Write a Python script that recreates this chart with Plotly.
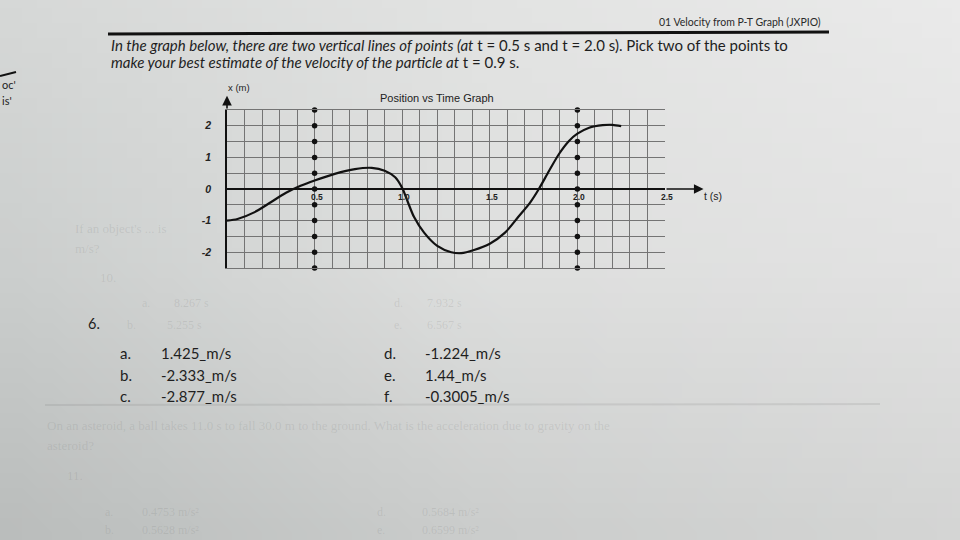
import base64, zlib, struct
import plotly.graph_objects as go

# ---------------- data ----------------
curve_t = [0.0, 0.06, 0.155, 0.25, 0.337, 0.42, 0.5, 0.615, 0.73, 0.826, 0.90, 0.96, 1.0, 1.03, 1.067,
           1.125, 1.20, 1.28, 1.337, 1.41, 1.5, 1.587, 1.663, 1.73, 1.78, 1.837, 1.894, 1.952, 2.0,
           2.067, 2.144, 2.2, 2.25]
curve_x = [-1.0, -0.95, -0.74, -0.42, -0.12, 0.1, 0.27, 0.48, 0.63, 0.67, 0.58, 0.37, 0.03, -0.38, -0.88,
           -1.38, -1.8, -2.0, -2.03, -1.93, -1.73, -1.38, -0.88, -0.43, 0.0, 0.56, 1.1, 1.52, 1.75,
           1.94, 2.02, 2.03, 1.99]
dots_t1 = 0.5
dots_t2 = 2.0
dot_positions = [2.5, 2.0, 1.5, 1.0, 0.5, 0.0, -0.5, -1.0, -1.5, -2.0, -2.5]
x_tick_vals = [0.5, 1.0, 1.5, 2.0, 2.5]
x_tick_text = ["0.5", "1.0", "1.5", "2.0", "2.5"]
y_tick_vals = [-2, -1, 0, 1, 2]
y_tick_text = ["-2", "-1", "0", "1", "2"]
answer_letters_left = ["a.", "b.", "c."]
answer_values_left = ["1.425_m/s", "-2.333_m/s", "-2.877_m/s"]
answer_letters_right = ["d.", "e.", "f."]
answer_values_right = ["-1.224_m/s", "1.44_m/s", "-0.3005_m/s"]

T_RANGE = [0, 2.5]
X_RANGE = [-2.5, 2.5]

W, H = 960, 540
ML, MR, MT, MB = 227, 295, 110, 272
PW, PH = W - ML - MR, H - MT - MB


def px(xp):
    return (xp - ML) / PW


def py(yp):
    return (H - MB - yp) / PH


# ---------------- background gradient (photo look) ----------------
def make_png(ctrl, w=64, h=36):
    rows = len(ctrl)
    cols = len(ctrl[0])
    raw = bytearray()
    for j in range(h):
        v = j / (h - 1) * (rows - 1)
        j0 = min(int(v), rows - 2)
        fv = v - j0
        raw.append(0)
        for i in range(w):
            u = i / (w - 1) * (cols - 1)
            i0 = min(int(u), cols - 2)
            fu = u - i0
            for c in range(3):
                a = ctrl[j0][i0][c] * (1 - fu) + ctrl[j0][i0 + 1][c] * fu
                b = ctrl[j0 + 1][i0][c] * (1 - fu) + ctrl[j0 + 1][i0 + 1][c] * fu
                raw.append(int(round(a * (1 - fv) + b * fv)))

    def chunk(t, d):
        return struct.pack('>I', len(d)) + t + d + struct.pack('>I', zlib.crc32(t + d) & 0xffffffff)

    png = (b'\x89PNG\r\n\x1a\n' + chunk(b'IHDR', struct.pack('>IIBBBBB', w, h, 8, 2, 0, 0, 0))
           + chunk(b'IDAT', zlib.compress(bytes(raw))) + chunk(b'IEND', b''))
    return 'data:image/png;base64,' + base64.b64encode(png).decode()


ctrl = [
    [(214, 216, 215), (226, 227, 226), (234, 234, 234)],
    [(203, 206, 205), (222, 223, 222), (226, 226, 226)],
    [(186, 189, 188), (203, 205, 204), (212, 213, 212)],
]
bg = make_png(ctrl)

fig = go.Figure()

# curve
fig.add_trace(go.Scatter(x=curve_t, y=curve_x, mode='lines',
                         line=dict(color='#111111', width=2.2, shape='spline', smoothing=0.8),
                         hoverinfo='skip', showlegend=False, cliponaxis=False))
# dot columns
for tt in (dots_t1, dots_t2):
    fig.add_trace(go.Scatter(x=[tt] * len(dot_positions), y=dot_positions, mode='markers',
                             marker=dict(color='#111111', size=5.5),
                             hoverinfo='skip', showlegend=False, cliponaxis=False))

grid_col = '#747474'
fig.update_xaxes(range=T_RANGE, dtick=0.1, tick0=0, showgrid=True, gridcolor=grid_col, gridwidth=1,
                 showticklabels=False, ticks='', zeroline=False,
                 showline=True, linecolor=grid_col, linewidth=1, mirror=True)
fig.update_yaxes(range=X_RANGE, tickvals=y_tick_vals, ticktext=y_tick_text, showgrid=True,
                 gridcolor=grid_col, gridwidth=1,
                 minor=dict(dtick=0.5, tick0=0, showgrid=True, gridcolor=grid_col, gridwidth=1),
                 zeroline=True, zerolinecolor='#111111', zerolinewidth=1.6,
                 showline=True, linecolor='#111111', linewidth=1.6, mirror=False,
                 ticks='', ticklabelstandoff=12,
                 tickfont=dict(family='Liberation Sans', size=10.5, color='#222222', weight='bold', style='italic'))

ann = []
# axis arrows
ann.append(dict(x=T_RANGE[0], y=2.95, ax=T_RANGE[0], ay=X_RANGE[1], xref='x', yref='y', axref='x', ayref='y',
                showarrow=True, arrowhead=2, arrowsize=1.2, arrowwidth=1.6, arrowcolor='#111111', text=''))
ann.append(dict(x=2.72, y=0, ax=T_RANGE[1], ay=0, xref='x', yref='y', axref='x', ayref='y',
                showarrow=True, arrowhead=2, arrowsize=1.2, arrowwidth=1.6, arrowcolor='#111111', text=''))
# x tick labels
for v, t in zip(x_tick_vals, x_tick_text):
    ann.append(dict(x=v, y=0, xref='x', yref='y', text=t, showarrow=False, xshift=2, yshift=-8,
                    font=dict(family='Liberation Sans', size=8.5, color='#222222', weight='bold')))
# axis titles and chart title
ann.append(dict(x=px(239), y=py(88), xref='paper', yref='paper', text='x (m)', showarrow=False,
                xanchor='center', yanchor='middle',
                font=dict(family='Liberation Sans', size=9.5, color='#222222')))
ann.append(dict(x=px(702), y=py(196), xref='paper', yref='paper', text='t (s)', showarrow=False,
                xanchor='left', yanchor='middle',
                font=dict(family='Liberation Sans', size=10.5, color='#222222')))
ann.append(dict(x=px(437), y=py(98), xref='paper', yref='paper', text='Position vs Time Graph', showarrow=False,
                xanchor='center', yanchor='middle',
                font=dict(family='Liberation Sans', size=11, color='#222222')))

# worksheet text
TF = 'Lato'
ann.append(dict(x=px(823), y=py(22), xref='paper', yref='paper', xanchor='right', yanchor='middle',
                text='01 Velocity from P-T Graph (JXPIO)', showarrow=False,
                font=dict(family=TF, size=10.5, color='#2a2a2a')))
ann.append(dict(x=px(109), y=py(45), xref='paper', yref='paper', xanchor='left', yanchor='middle',
                text='<i>In the graph below, there are two vertical lines of points (at</i> t = 0.5 s and t = 2.0 s). Pick two of the points to',
                showarrow=False, font=dict(family=TF, size=15, color='#1e1e1e')))
ann.append(dict(x=px(109), y=py(62), xref='paper', yref='paper', xanchor='left', yanchor='middle',
                text='<i>make your best estimate of the velocity of the particle at</i> t = 0.9 s.',
                showarrow=False, font=dict(family=TF, size=15, color='#1e1e1e')))
ann.append(dict(x=px(86), y=py(323), xref='paper', yref='paper', xanchor='left', yanchor='middle',
                text='6.', showarrow=False, font=dict(family=TF, size=14.5, color='#1e1e1e')))
for i in range(3):
    yy = py(353 + i * 21.5)
    ann.append(dict(x=px(118), y=yy, xref='paper', yref='paper', xanchor='left', yanchor='middle',
                    text=answer_letters_left[i], showarrow=False, font=dict(family=TF, size=15, color='#1e1e1e')))
    ann.append(dict(x=px(159), y=yy, xref='paper', yref='paper', xanchor='left', yanchor='middle',
                    text=answer_values_left[i], showarrow=False, font=dict(family=TF, size=15, color='#1e1e1e')))
    ann.append(dict(x=px(382), y=yy, xref='paper', yref='paper', xanchor='left', yanchor='middle',
                    text=answer_letters_right[i], showarrow=False, font=dict(family=TF, size=15, color='#1e1e1e')))
    ann.append(dict(x=px(423), y=yy, xref='paper', yref='paper', xanchor='left', yanchor='middle',
                    text=answer_values_right[i], showarrow=False, font=dict(family=TF, size=15, color='#1e1e1e')))

# faint show-through text from the next page
faint = 'rgba(110,112,111,0.16)'
faint_items = [
    (73, 228, 'If an object\'s ... is', 13),
    (73, 248, 'm/s?', 13),
    (98, 277, '10.', 13),
    (140, 303, 'a.', 12), (172, 303, '8.267 s', 12), (392, 303, 'd.', 12), (425, 303, '7.932 s', 12),
    (125, 325, 'b.', 12), (165, 325, '5.255 s', 12), (392, 325, 'e.', 12), (425, 325, '6.567 s', 12),
    (45, 425, 'On an asteroid, a ball takes 11.0 s to fall 30.0 m to the ground. What is the acceleration due to gravity on the', 13),
    (45, 446, 'asteroid?', 13),
    (65, 475, '11.', 13),
    (103, 512, 'a.', 12), (140, 512, '0.4753 m/s²', 12), (375, 512, 'd.', 12), (420, 512, '0.5684 m/s²', 12),
    (103, 530, 'b.', 12), (140, 530, '0.5628 m/s²', 12), (375, 530, 'e.', 12), (420, 530, '0.6599 m/s²', 12),
]
for xx, yy, tx, fs in faint_items:
    ann.append(dict(x=px(xx), y=py(yy), xref='paper', yref='paper', xanchor='left', yanchor='middle',
                    text=tx, showarrow=False, font=dict(family='Liberation Serif', size=fs, color=faint)))

# fragments on the left paper edge
ann.append(dict(x=px(0), y=py(84), xref='paper', yref='paper', xanchor='left', yanchor='middle',
                text='oc\'', showarrow=False, font=dict(family=TF, size=11, color='#1e1e1e')))
ann.append(dict(x=px(0), y=py(100), xref='paper', yref='paper', xanchor='left', yanchor='middle',
                text='is\'', showarrow=False, font=dict(family=TF, size=11, color='#1e1e1e')))

shapes = [
    dict(type='line', xref='paper', yref='paper', x0=px(108), x1=px(829), y0=py(34), y1=py(32),
         line=dict(color='#111111', width=3)),
    dict(type='line', xref='paper', yref='paper', x0=px(0), x1=px(16), y0=py(76), y1=py(72),
         line=dict(color='#111111', width=2)),
    dict(type='line', xref='paper', yref='paper', x0=px(45), x1=px(880), y0=py(405), y1=py(404),
         line=dict(color='rgba(90,90,90,0.12)', width=2)),
]

fig.update_layout(
    width=W, height=H, autosize=False,
    margin=dict(l=ML, r=MR, t=MT, b=MB, pad=0),
    paper_bgcolor='#dcdddc', plot_bgcolor='rgba(0,0,0,0)',
    showlegend=False,
    annotations=ann, shapes=shapes,
    images=[dict(source=bg, xref='paper', yref='paper', x=px(0), y=py(0), sizex=W / PW, sizey=H / PH,
                 xanchor='left', yanchor='top', sizing='stretch', layer='below')],
)

fig.write_html('out.html', config={'displayModeBar': False},
               post_script="document.body.style.margin='0';document.body.style.overflow='hidden';")
